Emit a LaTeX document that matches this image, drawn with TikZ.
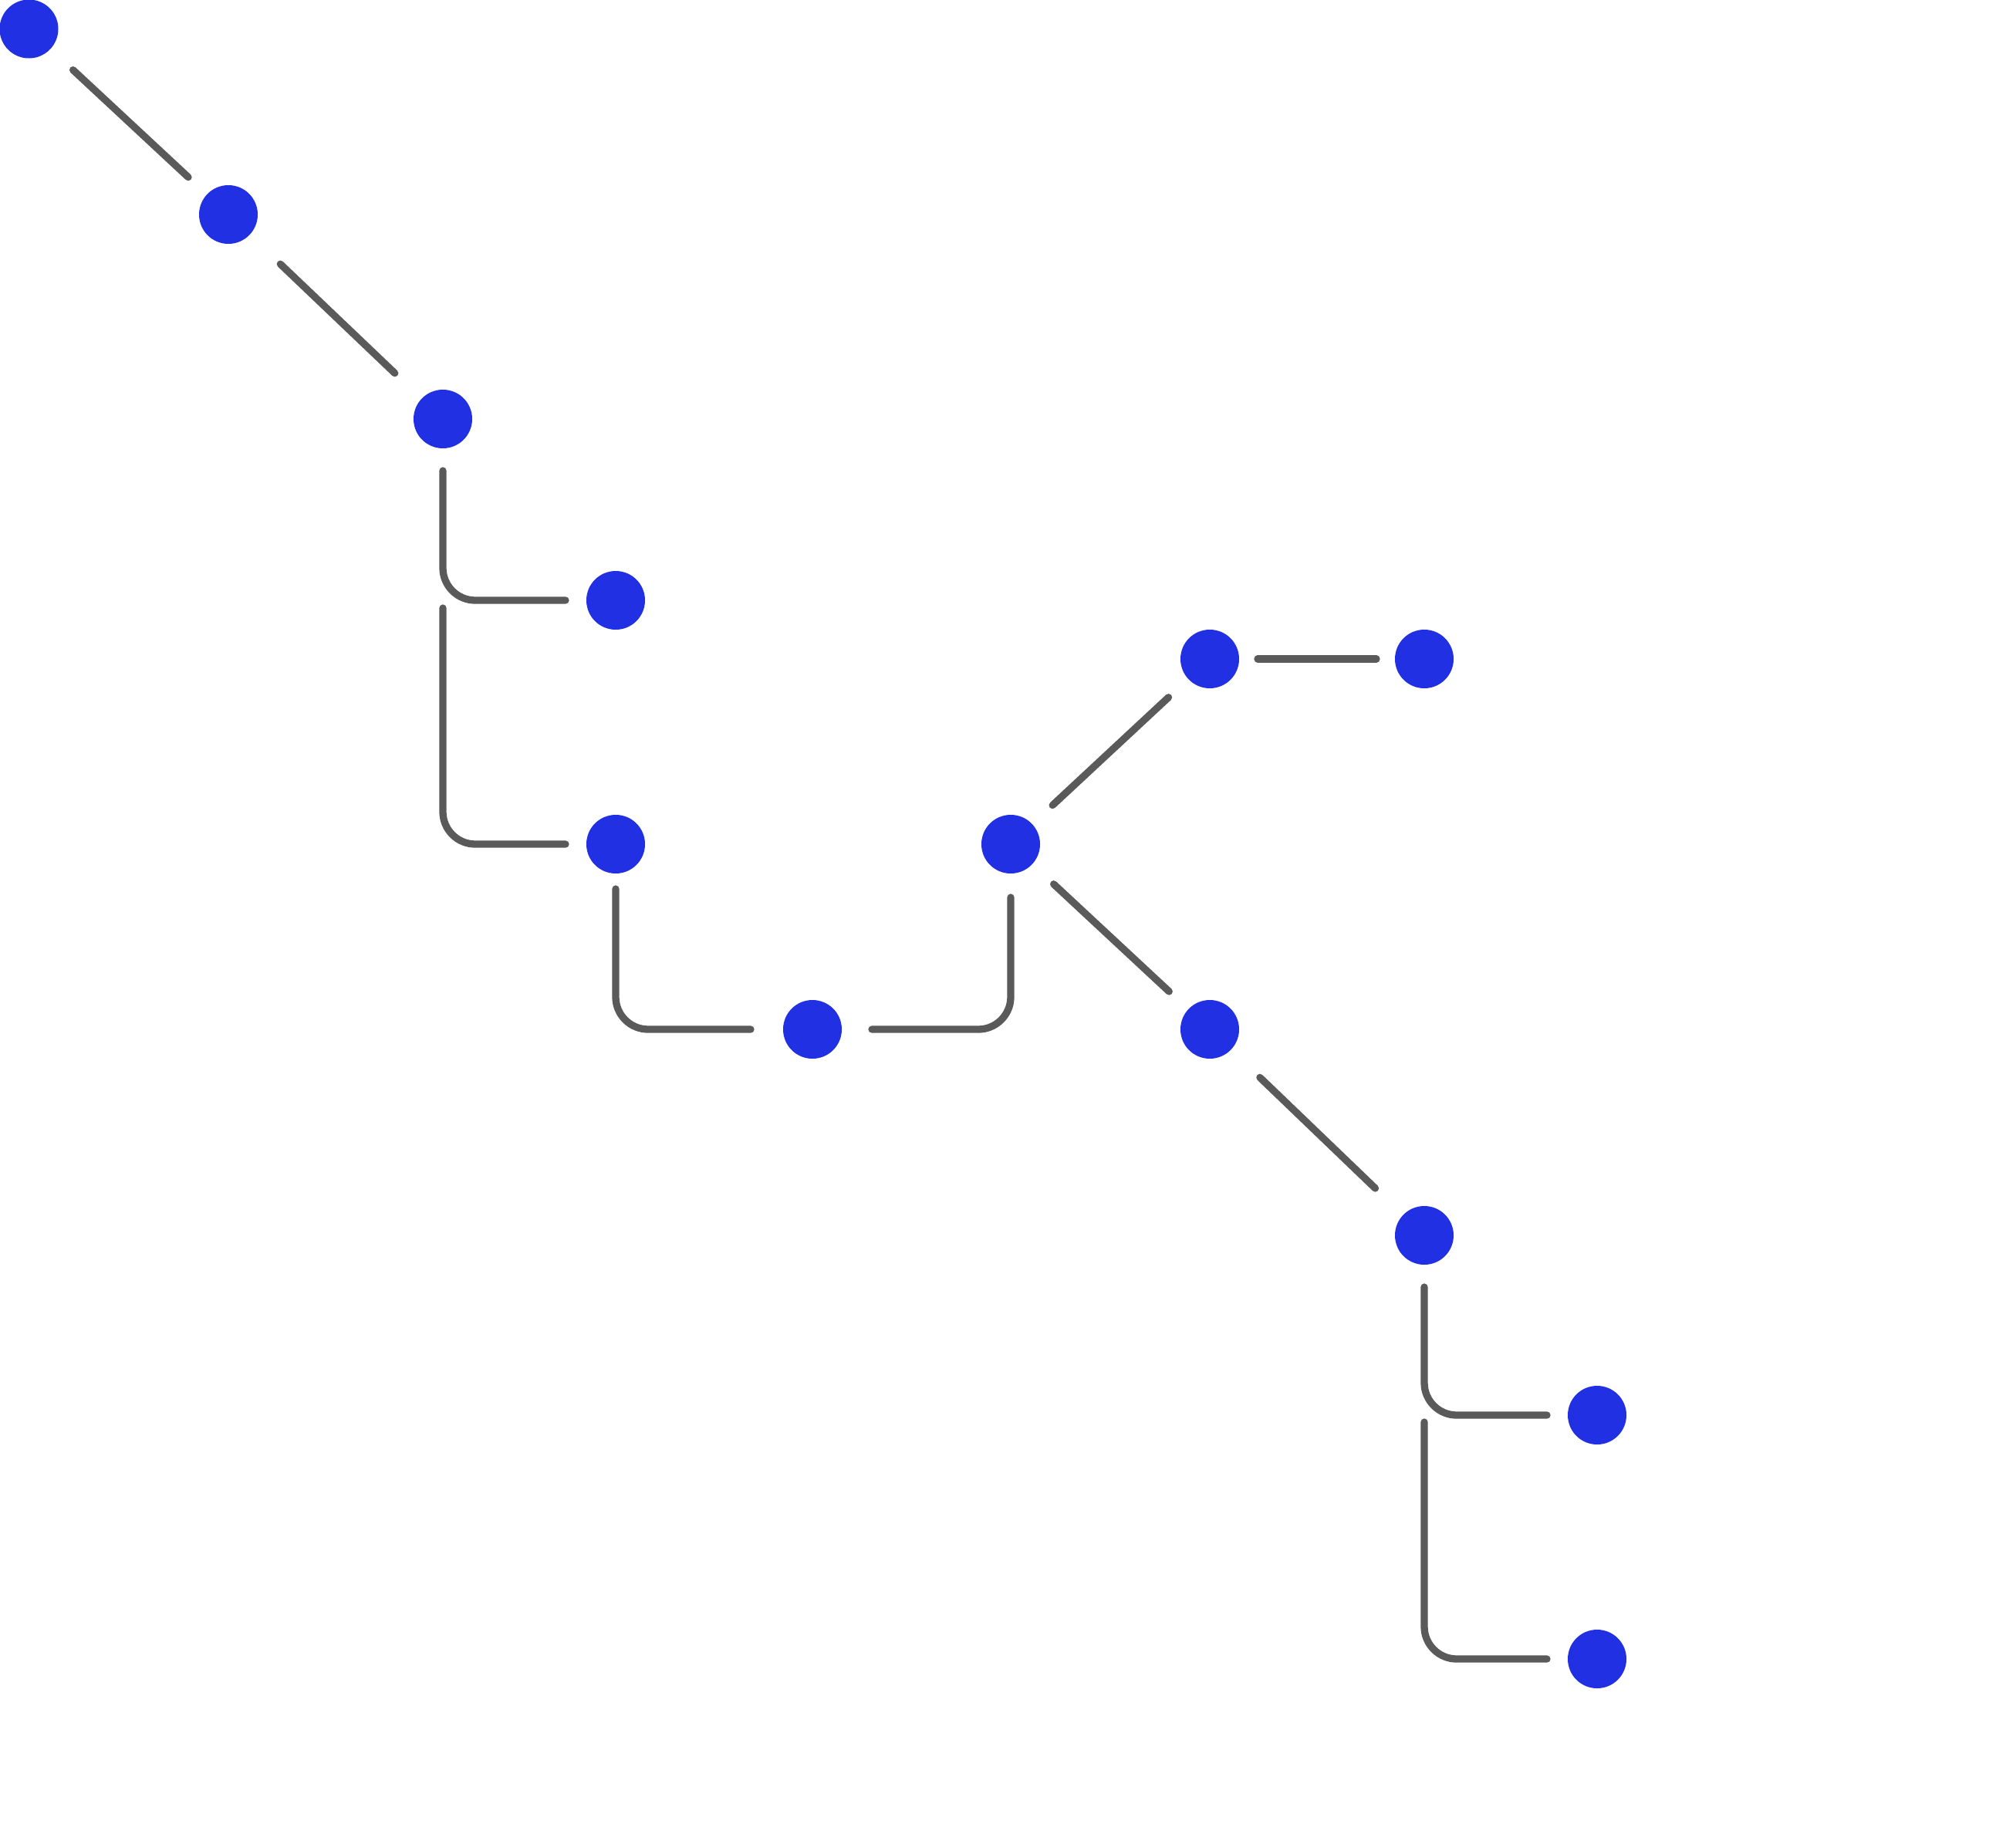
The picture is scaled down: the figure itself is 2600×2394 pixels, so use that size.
\documentclass[tikz,border=0pt]{standalone}
\definecolor{nodeblue}{RGB}{32,48,226}
\definecolor{linegray}{RGB}{90,90,90}
\tikzset{
  dot/.style={circle, fill=nodeblue, draw=none, minimum size=76pt, inner sep=0pt, outer sep=0pt},
  conn/.style={draw=linegray, line width=9.3pt, line cap=round, rounded corners=42pt}
}
\begin{document}
\begin{tikzpicture}[x=1pt,y=-1pt]
\useasboundingbox (0,0) rectangle (2600,2394);
\node[dot] (n1) at (37.5,37.5) {};
\node[dot] (n2) at (296,278) {};
\node[dot] (n3) at (574,543) {};
\node[dot] (n4) at (798,778) {};
\node[dot] (n5) at (798,1094) {};
\node[dot] (n6) at (1053,1334) {};
\node[dot] (n7) at (1310,1094) {};
\node[dot] (n8) at (1568,854) {};
\node[dot] (n9) at (1846,854) {};
\node[dot] (n10) at (1568,1334) {};
\node[dot] (n11) at (1846,1601) {};
\node[dot] (n12) at (2070,1834) {};
\node[dot] (n13) at (2070,2150) {};
\draw[conn, shorten <=78pt, shorten >=71pt] (n1.center) -- (n2.center);
\draw[conn, shorten <=93pt, shorten >=86pt] (n2.center) -- (n3.center);
\draw[conn, shorten <=67pt, shorten >=65pt] (n3.center) |- (n4.center);
\draw[conn, shorten <=245pt, shorten >=65pt] (n3.center) |- (n5.center);
\draw[conn, shorten <=58pt, shorten >=80pt] (n5.center) |- (n6.center);
\draw[conn, shorten <=77pt, shorten >=69pt] (n6.center) -| (n7.center);
\draw[conn, shorten <=74pt, shorten >=73pt] (n7.center) -- (n8.center);
\draw[conn, shorten <=76pt, shorten >=72pt] (n7.center) -- (n10.center);
\draw[conn, shorten <=62pt, shorten >=62pt] (n8.center) -- (n9.center);
\draw[conn, shorten <=90pt, shorten >=88pt] (n10.center) -- (n11.center);
\draw[conn, shorten <=67pt, shorten >=65pt] (n11.center) |- (n12.center);
\draw[conn, shorten <=242pt, shorten >=65pt] (n11.center) |- (n13.center);
\end{tikzpicture}
\end{document}
